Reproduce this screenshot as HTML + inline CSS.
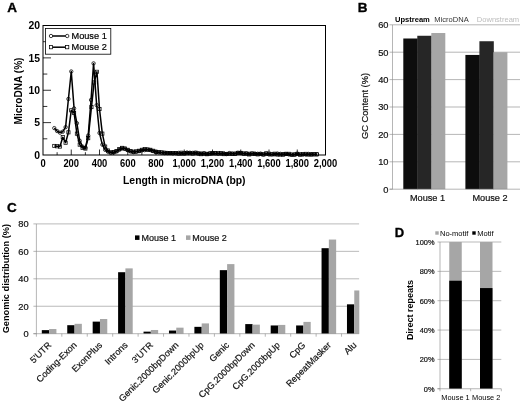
<!DOCTYPE html>
<html><head><meta charset="utf-8"><title>Figure</title>
<style>
html,body{margin:0;padding:0;background:#fff;}
body{width:520px;height:402px;overflow:hidden;}
svg{display:block;font-family:"Liberation Sans", Arial, Helvetica, sans-serif;}
</style></head><body>
<svg width="520" height="402" viewBox="0 0 520 402">
<rect width="520" height="402" fill="#fff"/>
<g id="panelA">
<rect x="43.0" y="25.5" width="282.5" height="129.5" fill="#fff" stroke="#000" stroke-width="1"/>
<line x1="57.12" y1="155.0" x2="57.12" y2="152.2" stroke="#000" stroke-width="0.8"/>
<line x1="71.25" y1="155.0" x2="71.25" y2="149.5" stroke="#000" stroke-width="0.8"/>
<line x1="85.38" y1="155.0" x2="85.38" y2="152.2" stroke="#000" stroke-width="0.8"/>
<line x1="99.50" y1="155.0" x2="99.50" y2="149.5" stroke="#000" stroke-width="0.8"/>
<line x1="113.62" y1="155.0" x2="113.62" y2="152.2" stroke="#000" stroke-width="0.8"/>
<line x1="127.75" y1="155.0" x2="127.75" y2="149.5" stroke="#000" stroke-width="0.8"/>
<line x1="141.88" y1="155.0" x2="141.88" y2="152.2" stroke="#000" stroke-width="0.8"/>
<line x1="156.00" y1="155.0" x2="156.00" y2="149.5" stroke="#000" stroke-width="0.8"/>
<line x1="170.12" y1="155.0" x2="170.12" y2="152.2" stroke="#000" stroke-width="0.8"/>
<line x1="184.25" y1="155.0" x2="184.25" y2="149.5" stroke="#000" stroke-width="0.8"/>
<line x1="198.38" y1="155.0" x2="198.38" y2="152.2" stroke="#000" stroke-width="0.8"/>
<line x1="212.50" y1="155.0" x2="212.50" y2="149.5" stroke="#000" stroke-width="0.8"/>
<line x1="226.62" y1="155.0" x2="226.62" y2="152.2" stroke="#000" stroke-width="0.8"/>
<line x1="240.75" y1="155.0" x2="240.75" y2="149.5" stroke="#000" stroke-width="0.8"/>
<line x1="254.88" y1="155.0" x2="254.88" y2="152.2" stroke="#000" stroke-width="0.8"/>
<line x1="269.00" y1="155.0" x2="269.00" y2="149.5" stroke="#000" stroke-width="0.8"/>
<line x1="283.12" y1="155.0" x2="283.12" y2="152.2" stroke="#000" stroke-width="0.8"/>
<line x1="297.25" y1="155.0" x2="297.25" y2="149.5" stroke="#000" stroke-width="0.8"/>
<line x1="311.38" y1="155.0" x2="311.38" y2="152.2" stroke="#000" stroke-width="0.8"/>
<line x1="43.0" y1="138.81" x2="47.3" y2="138.81" stroke="#000" stroke-width="0.8"/>
<line x1="43.0" y1="122.62" x2="51.0" y2="122.62" stroke="#000" stroke-width="0.8"/>
<line x1="43.0" y1="106.44" x2="47.3" y2="106.44" stroke="#000" stroke-width="0.8"/>
<line x1="43.0" y1="90.25" x2="51.0" y2="90.25" stroke="#000" stroke-width="0.8"/>
<line x1="43.0" y1="74.06" x2="47.3" y2="74.06" stroke="#000" stroke-width="0.8"/>
<line x1="43.0" y1="57.88" x2="51.0" y2="57.88" stroke="#000" stroke-width="0.8"/>
<line x1="43.0" y1="41.69" x2="47.3" y2="41.69" stroke="#000" stroke-width="0.8"/>
<polyline points="54.30,145.94 57.12,146.26 59.95,146.58 62.77,137.19 65.60,142.70 68.42,132.34 71.25,110.32 74.08,112.91 76.90,133.63 79.72,144.64 82.55,147.88 85.38,148.53 88.20,138.16 91.45,107.08 94.13,82.48 96.96,71.80 99.50,109.03 102.33,133.63 105.15,146.58 107.97,150.47 110.80,152.41 113.62,152.09 116.45,151.12 119.28,149.17 122.10,147.88 124.92,148.53 127.75,149.82 130.57,151.12 133.40,151.76 136.22,151.44 139.05,150.79 141.88,149.82 144.70,149.17 147.53,149.50 150.35,149.82 153.18,150.79 156.00,151.76 158.82,152.09 161.65,152.41 164.47,152.73 167.30,153.06 170.12,153.06 172.95,153.07 175.78,153.00 178.60,153.63 181.43,152.73 184.25,153.43 187.07,153.16 189.90,153.15 192.72,153.53 195.55,152.69 198.38,153.36 201.20,154.15 204.03,153.53 206.85,154.19 209.68,153.67 212.50,153.20 215.32,153.15 218.15,153.29 220.97,153.13 223.80,154.11 226.62,153.97 229.45,153.71 232.28,153.87 235.10,153.77 237.93,152.89 240.75,152.91 243.57,153.53 246.40,153.46 249.22,154.42 252.05,153.49 254.88,153.95 257.70,154.37 260.52,153.94 263.35,154.54 266.18,153.46 269.00,153.68 271.82,154.44 274.65,153.72 277.48,154.56 280.30,154.56 283.12,154.61 285.95,153.86 288.77,153.84 291.60,154.68 294.43,154.68 297.25,153.88 300.07,154.68 302.90,153.99 305.73,153.88 308.55,154.56 311.38,154.39 314.20,154.31 317.02,154.28" fill="none" stroke="#000" stroke-width="1.5" stroke-linejoin="round"/>
<rect x="52.70" y="144.34" width="3.2" height="3.2" fill="none" stroke="#000" stroke-width="0.75"/>
<rect x="55.52" y="144.66" width="3.2" height="3.2" fill="none" stroke="#000" stroke-width="0.75"/>
<rect x="58.35" y="144.98" width="3.2" height="3.2" fill="none" stroke="#000" stroke-width="0.75"/>
<rect x="61.17" y="135.59" width="3.2" height="3.2" fill="none" stroke="#000" stroke-width="0.75"/>
<rect x="64.00" y="141.10" width="3.2" height="3.2" fill="none" stroke="#000" stroke-width="0.75"/>
<rect x="66.83" y="130.74" width="3.2" height="3.2" fill="none" stroke="#000" stroke-width="0.75"/>
<rect x="69.65" y="108.72" width="3.2" height="3.2" fill="none" stroke="#000" stroke-width="0.75"/>
<rect x="72.48" y="111.31" width="3.2" height="3.2" fill="none" stroke="#000" stroke-width="0.75"/>
<rect x="75.30" y="132.03" width="3.2" height="3.2" fill="none" stroke="#000" stroke-width="0.75"/>
<rect x="78.12" y="143.04" width="3.2" height="3.2" fill="none" stroke="#000" stroke-width="0.75"/>
<rect x="80.95" y="146.28" width="3.2" height="3.2" fill="none" stroke="#000" stroke-width="0.75"/>
<rect x="83.78" y="146.93" width="3.2" height="3.2" fill="none" stroke="#000" stroke-width="0.75"/>
<rect x="86.60" y="136.56" width="3.2" height="3.2" fill="none" stroke="#000" stroke-width="0.75"/>
<rect x="89.85" y="105.48" width="3.2" height="3.2" fill="none" stroke="#000" stroke-width="0.75"/>
<rect x="92.53" y="80.88" width="3.2" height="3.2" fill="none" stroke="#000" stroke-width="0.75"/>
<rect x="95.36" y="70.20" width="3.2" height="3.2" fill="none" stroke="#000" stroke-width="0.75"/>
<rect x="97.90" y="107.43" width="3.2" height="3.2" fill="none" stroke="#000" stroke-width="0.75"/>
<rect x="100.73" y="132.03" width="3.2" height="3.2" fill="none" stroke="#000" stroke-width="0.75"/>
<rect x="103.55" y="144.98" width="3.2" height="3.2" fill="none" stroke="#000" stroke-width="0.75"/>
<rect x="106.38" y="148.87" width="3.2" height="3.2" fill="none" stroke="#000" stroke-width="0.75"/>
<rect x="109.20" y="150.81" width="3.2" height="3.2" fill="none" stroke="#000" stroke-width="0.75"/>
<rect x="112.03" y="150.49" width="3.2" height="3.2" fill="none" stroke="#000" stroke-width="0.75"/>
<rect x="114.85" y="149.52" width="3.2" height="3.2" fill="none" stroke="#000" stroke-width="0.75"/>
<rect x="117.68" y="147.57" width="3.2" height="3.2" fill="none" stroke="#000" stroke-width="0.75"/>
<rect x="120.50" y="146.28" width="3.2" height="3.2" fill="none" stroke="#000" stroke-width="0.75"/>
<rect x="123.33" y="146.93" width="3.2" height="3.2" fill="none" stroke="#000" stroke-width="0.75"/>
<rect x="126.15" y="148.22" width="3.2" height="3.2" fill="none" stroke="#000" stroke-width="0.75"/>
<rect x="128.97" y="149.52" width="3.2" height="3.2" fill="none" stroke="#000" stroke-width="0.75"/>
<rect x="131.80" y="150.16" width="3.2" height="3.2" fill="none" stroke="#000" stroke-width="0.75"/>
<rect x="134.62" y="149.84" width="3.2" height="3.2" fill="none" stroke="#000" stroke-width="0.75"/>
<rect x="137.45" y="149.19" width="3.2" height="3.2" fill="none" stroke="#000" stroke-width="0.75"/>
<rect x="140.28" y="148.22" width="3.2" height="3.2" fill="none" stroke="#000" stroke-width="0.75"/>
<rect x="143.10" y="147.57" width="3.2" height="3.2" fill="none" stroke="#000" stroke-width="0.75"/>
<rect x="145.93" y="147.90" width="3.2" height="3.2" fill="none" stroke="#000" stroke-width="0.75"/>
<rect x="148.75" y="148.22" width="3.2" height="3.2" fill="none" stroke="#000" stroke-width="0.75"/>
<rect x="151.58" y="149.19" width="3.2" height="3.2" fill="none" stroke="#000" stroke-width="0.75"/>
<rect x="154.40" y="150.16" width="3.2" height="3.2" fill="none" stroke="#000" stroke-width="0.75"/>
<rect x="157.22" y="150.49" width="3.2" height="3.2" fill="none" stroke="#000" stroke-width="0.75"/>
<rect x="160.05" y="150.81" width="3.2" height="3.2" fill="none" stroke="#000" stroke-width="0.75"/>
<rect x="162.88" y="151.13" width="3.2" height="3.2" fill="none" stroke="#000" stroke-width="0.75"/>
<rect x="165.70" y="151.46" width="3.2" height="3.2" fill="none" stroke="#000" stroke-width="0.75"/>
<rect x="168.53" y="151.46" width="3.2" height="3.2" fill="none" stroke="#000" stroke-width="0.75"/>
<rect x="171.35" y="151.47" width="3.2" height="3.2" fill="none" stroke="#000" stroke-width="0.75"/>
<rect x="174.18" y="151.40" width="3.2" height="3.2" fill="none" stroke="#000" stroke-width="0.75"/>
<rect x="177.00" y="152.03" width="3.2" height="3.2" fill="none" stroke="#000" stroke-width="0.75"/>
<rect x="179.83" y="151.13" width="3.2" height="3.2" fill="none" stroke="#000" stroke-width="0.75"/>
<rect x="182.65" y="151.83" width="3.2" height="3.2" fill="none" stroke="#000" stroke-width="0.75"/>
<rect x="185.47" y="151.56" width="3.2" height="3.2" fill="none" stroke="#000" stroke-width="0.75"/>
<rect x="188.30" y="151.55" width="3.2" height="3.2" fill="none" stroke="#000" stroke-width="0.75"/>
<rect x="191.12" y="151.93" width="3.2" height="3.2" fill="none" stroke="#000" stroke-width="0.75"/>
<rect x="193.95" y="151.09" width="3.2" height="3.2" fill="none" stroke="#000" stroke-width="0.75"/>
<rect x="196.78" y="151.76" width="3.2" height="3.2" fill="none" stroke="#000" stroke-width="0.75"/>
<rect x="199.60" y="152.55" width="3.2" height="3.2" fill="none" stroke="#000" stroke-width="0.75"/>
<rect x="202.43" y="151.93" width="3.2" height="3.2" fill="none" stroke="#000" stroke-width="0.75"/>
<rect x="205.25" y="152.59" width="3.2" height="3.2" fill="none" stroke="#000" stroke-width="0.75"/>
<rect x="208.08" y="152.07" width="3.2" height="3.2" fill="none" stroke="#000" stroke-width="0.75"/>
<rect x="210.90" y="151.60" width="3.2" height="3.2" fill="none" stroke="#000" stroke-width="0.75"/>
<rect x="213.72" y="151.55" width="3.2" height="3.2" fill="none" stroke="#000" stroke-width="0.75"/>
<rect x="216.55" y="151.69" width="3.2" height="3.2" fill="none" stroke="#000" stroke-width="0.75"/>
<rect x="219.38" y="151.53" width="3.2" height="3.2" fill="none" stroke="#000" stroke-width="0.75"/>
<rect x="222.20" y="152.51" width="3.2" height="3.2" fill="none" stroke="#000" stroke-width="0.75"/>
<rect x="225.03" y="152.37" width="3.2" height="3.2" fill="none" stroke="#000" stroke-width="0.75"/>
<rect x="227.85" y="152.11" width="3.2" height="3.2" fill="none" stroke="#000" stroke-width="0.75"/>
<rect x="230.68" y="152.27" width="3.2" height="3.2" fill="none" stroke="#000" stroke-width="0.75"/>
<rect x="233.50" y="152.17" width="3.2" height="3.2" fill="none" stroke="#000" stroke-width="0.75"/>
<rect x="236.33" y="151.29" width="3.2" height="3.2" fill="none" stroke="#000" stroke-width="0.75"/>
<rect x="239.15" y="151.31" width="3.2" height="3.2" fill="none" stroke="#000" stroke-width="0.75"/>
<rect x="241.97" y="151.93" width="3.2" height="3.2" fill="none" stroke="#000" stroke-width="0.75"/>
<rect x="244.80" y="151.86" width="3.2" height="3.2" fill="none" stroke="#000" stroke-width="0.75"/>
<rect x="247.62" y="152.82" width="3.2" height="3.2" fill="none" stroke="#000" stroke-width="0.75"/>
<rect x="250.45" y="151.89" width="3.2" height="3.2" fill="none" stroke="#000" stroke-width="0.75"/>
<rect x="253.28" y="152.35" width="3.2" height="3.2" fill="none" stroke="#000" stroke-width="0.75"/>
<rect x="256.10" y="152.77" width="3.2" height="3.2" fill="none" stroke="#000" stroke-width="0.75"/>
<rect x="258.92" y="152.34" width="3.2" height="3.2" fill="none" stroke="#000" stroke-width="0.75"/>
<rect x="261.75" y="152.94" width="3.2" height="3.2" fill="none" stroke="#000" stroke-width="0.75"/>
<rect x="264.57" y="151.86" width="3.2" height="3.2" fill="none" stroke="#000" stroke-width="0.75"/>
<rect x="267.40" y="152.08" width="3.2" height="3.2" fill="none" stroke="#000" stroke-width="0.75"/>
<rect x="270.22" y="152.84" width="3.2" height="3.2" fill="none" stroke="#000" stroke-width="0.75"/>
<rect x="273.05" y="152.12" width="3.2" height="3.2" fill="none" stroke="#000" stroke-width="0.75"/>
<rect x="275.88" y="152.96" width="3.2" height="3.2" fill="none" stroke="#000" stroke-width="0.75"/>
<rect x="278.70" y="152.96" width="3.2" height="3.2" fill="none" stroke="#000" stroke-width="0.75"/>
<rect x="281.52" y="153.01" width="3.2" height="3.2" fill="none" stroke="#000" stroke-width="0.75"/>
<rect x="284.35" y="152.26" width="3.2" height="3.2" fill="none" stroke="#000" stroke-width="0.75"/>
<rect x="287.17" y="152.24" width="3.2" height="3.2" fill="none" stroke="#000" stroke-width="0.75"/>
<rect x="290.00" y="153.08" width="3.2" height="3.2" fill="none" stroke="#000" stroke-width="0.75"/>
<rect x="292.82" y="153.08" width="3.2" height="3.2" fill="none" stroke="#000" stroke-width="0.75"/>
<rect x="295.65" y="152.28" width="3.2" height="3.2" fill="none" stroke="#000" stroke-width="0.75"/>
<rect x="298.47" y="153.08" width="3.2" height="3.2" fill="none" stroke="#000" stroke-width="0.75"/>
<rect x="301.30" y="152.39" width="3.2" height="3.2" fill="none" stroke="#000" stroke-width="0.75"/>
<rect x="304.12" y="152.28" width="3.2" height="3.2" fill="none" stroke="#000" stroke-width="0.75"/>
<rect x="306.95" y="152.96" width="3.2" height="3.2" fill="none" stroke="#000" stroke-width="0.75"/>
<rect x="309.77" y="152.79" width="3.2" height="3.2" fill="none" stroke="#000" stroke-width="0.75"/>
<rect x="312.60" y="152.71" width="3.2" height="3.2" fill="none" stroke="#000" stroke-width="0.75"/>
<rect x="315.42" y="152.68" width="3.2" height="3.2" fill="none" stroke="#000" stroke-width="0.75"/>
<polyline points="54.30,128.13 57.12,131.04 59.95,132.66 62.77,131.69 65.60,127.16 68.42,98.99 71.25,71.47 74.08,108.38 76.90,123.27 79.72,140.75 82.55,146.58 85.38,147.88 88.20,135.57 91.03,99.96 93.57,63.38 96.67,105.14 99.50,132.99 102.33,144.64 105.15,149.82 107.97,151.76 110.80,152.73 113.62,152.41 116.45,151.44 119.28,149.82 122.10,148.53 124.92,148.85 127.75,150.14 130.57,151.44 133.40,152.09 136.22,151.76 139.05,151.12 141.88,150.47 144.70,150.14 147.53,149.82 150.35,150.14 153.18,151.12 156.00,152.09 158.82,152.41 161.65,152.73 164.47,153.06 167.30,153.06 170.12,153.06 172.95,153.43 175.78,153.27 178.60,152.98 181.43,153.69 184.25,153.40 187.07,152.54 189.90,152.73 192.72,152.96 195.55,152.97 198.38,153.61 201.20,153.44 204.03,153.34 206.85,153.87 209.68,153.21 212.50,153.39 215.32,153.39 218.15,153.76 220.97,153.70 223.80,153.20 226.62,154.06 229.45,153.10 232.28,153.49 235.10,153.63 237.93,152.84 240.75,152.96 243.57,153.82 246.40,153.61 249.22,153.83 252.05,153.61 254.88,153.56 257.70,153.78 260.52,153.64 263.35,154.28 266.18,153.62 269.00,154.51 271.82,154.13 274.65,154.27 277.48,153.59 280.30,153.90 283.12,154.16 285.95,153.97 288.77,154.41 291.60,154.64 294.43,154.30 297.25,153.71 300.07,154.29 302.90,154.68 305.73,154.63 308.55,153.95 311.38,154.46 314.20,154.25 317.02,154.35" fill="none" stroke="#000" stroke-width="1.5" stroke-linejoin="round"/>
<circle cx="54.30" cy="128.13" r="1.7" fill="none" stroke="#000" stroke-width="0.75"/>
<circle cx="57.12" cy="131.04" r="1.7" fill="none" stroke="#000" stroke-width="0.75"/>
<circle cx="59.95" cy="132.66" r="1.7" fill="none" stroke="#000" stroke-width="0.75"/>
<circle cx="62.77" cy="131.69" r="1.7" fill="none" stroke="#000" stroke-width="0.75"/>
<circle cx="65.60" cy="127.16" r="1.7" fill="none" stroke="#000" stroke-width="0.75"/>
<circle cx="68.42" cy="98.99" r="1.7" fill="none" stroke="#000" stroke-width="0.75"/>
<circle cx="71.25" cy="71.47" r="1.7" fill="none" stroke="#000" stroke-width="0.75"/>
<circle cx="74.08" cy="108.38" r="1.7" fill="none" stroke="#000" stroke-width="0.75"/>
<circle cx="76.90" cy="123.27" r="1.7" fill="none" stroke="#000" stroke-width="0.75"/>
<circle cx="79.72" cy="140.75" r="1.7" fill="none" stroke="#000" stroke-width="0.75"/>
<circle cx="82.55" cy="146.58" r="1.7" fill="none" stroke="#000" stroke-width="0.75"/>
<circle cx="85.38" cy="147.88" r="1.7" fill="none" stroke="#000" stroke-width="0.75"/>
<circle cx="88.20" cy="135.57" r="1.7" fill="none" stroke="#000" stroke-width="0.75"/>
<circle cx="91.03" cy="99.96" r="1.7" fill="none" stroke="#000" stroke-width="0.75"/>
<circle cx="93.57" cy="63.38" r="1.7" fill="none" stroke="#000" stroke-width="0.75"/>
<circle cx="96.67" cy="105.14" r="1.7" fill="none" stroke="#000" stroke-width="0.75"/>
<circle cx="99.50" cy="132.99" r="1.7" fill="none" stroke="#000" stroke-width="0.75"/>
<circle cx="102.33" cy="144.64" r="1.7" fill="none" stroke="#000" stroke-width="0.75"/>
<circle cx="105.15" cy="149.82" r="1.7" fill="none" stroke="#000" stroke-width="0.75"/>
<circle cx="107.97" cy="151.76" r="1.7" fill="none" stroke="#000" stroke-width="0.75"/>
<circle cx="110.80" cy="152.73" r="1.7" fill="none" stroke="#000" stroke-width="0.75"/>
<circle cx="113.62" cy="152.41" r="1.7" fill="none" stroke="#000" stroke-width="0.75"/>
<circle cx="116.45" cy="151.44" r="1.7" fill="none" stroke="#000" stroke-width="0.75"/>
<circle cx="119.28" cy="149.82" r="1.7" fill="none" stroke="#000" stroke-width="0.75"/>
<circle cx="122.10" cy="148.53" r="1.7" fill="none" stroke="#000" stroke-width="0.75"/>
<circle cx="124.92" cy="148.85" r="1.7" fill="none" stroke="#000" stroke-width="0.75"/>
<circle cx="127.75" cy="150.14" r="1.7" fill="none" stroke="#000" stroke-width="0.75"/>
<circle cx="130.57" cy="151.44" r="1.7" fill="none" stroke="#000" stroke-width="0.75"/>
<circle cx="133.40" cy="152.09" r="1.7" fill="none" stroke="#000" stroke-width="0.75"/>
<circle cx="136.22" cy="151.76" r="1.7" fill="none" stroke="#000" stroke-width="0.75"/>
<circle cx="139.05" cy="151.12" r="1.7" fill="none" stroke="#000" stroke-width="0.75"/>
<circle cx="141.88" cy="150.47" r="1.7" fill="none" stroke="#000" stroke-width="0.75"/>
<circle cx="144.70" cy="150.14" r="1.7" fill="none" stroke="#000" stroke-width="0.75"/>
<circle cx="147.53" cy="149.82" r="1.7" fill="none" stroke="#000" stroke-width="0.75"/>
<circle cx="150.35" cy="150.14" r="1.7" fill="none" stroke="#000" stroke-width="0.75"/>
<circle cx="153.18" cy="151.12" r="1.7" fill="none" stroke="#000" stroke-width="0.75"/>
<circle cx="156.00" cy="152.09" r="1.7" fill="none" stroke="#000" stroke-width="0.75"/>
<circle cx="158.82" cy="152.41" r="1.7" fill="none" stroke="#000" stroke-width="0.75"/>
<circle cx="161.65" cy="152.73" r="1.7" fill="none" stroke="#000" stroke-width="0.75"/>
<circle cx="164.47" cy="153.06" r="1.7" fill="none" stroke="#000" stroke-width="0.75"/>
<circle cx="167.30" cy="153.06" r="1.7" fill="none" stroke="#000" stroke-width="0.75"/>
<circle cx="170.12" cy="153.06" r="1.7" fill="none" stroke="#000" stroke-width="0.75"/>
<circle cx="172.95" cy="153.43" r="1.7" fill="none" stroke="#000" stroke-width="0.75"/>
<circle cx="175.78" cy="153.27" r="1.7" fill="none" stroke="#000" stroke-width="0.75"/>
<circle cx="178.60" cy="152.98" r="1.7" fill="none" stroke="#000" stroke-width="0.75"/>
<circle cx="181.43" cy="153.69" r="1.7" fill="none" stroke="#000" stroke-width="0.75"/>
<circle cx="184.25" cy="153.40" r="1.7" fill="none" stroke="#000" stroke-width="0.75"/>
<circle cx="187.07" cy="152.54" r="1.7" fill="none" stroke="#000" stroke-width="0.75"/>
<circle cx="189.90" cy="152.73" r="1.7" fill="none" stroke="#000" stroke-width="0.75"/>
<circle cx="192.72" cy="152.96" r="1.7" fill="none" stroke="#000" stroke-width="0.75"/>
<circle cx="195.55" cy="152.97" r="1.7" fill="none" stroke="#000" stroke-width="0.75"/>
<circle cx="198.38" cy="153.61" r="1.7" fill="none" stroke="#000" stroke-width="0.75"/>
<circle cx="201.20" cy="153.44" r="1.7" fill="none" stroke="#000" stroke-width="0.75"/>
<circle cx="204.03" cy="153.34" r="1.7" fill="none" stroke="#000" stroke-width="0.75"/>
<circle cx="206.85" cy="153.87" r="1.7" fill="none" stroke="#000" stroke-width="0.75"/>
<circle cx="209.68" cy="153.21" r="1.7" fill="none" stroke="#000" stroke-width="0.75"/>
<circle cx="212.50" cy="153.39" r="1.7" fill="none" stroke="#000" stroke-width="0.75"/>
<circle cx="215.32" cy="153.39" r="1.7" fill="none" stroke="#000" stroke-width="0.75"/>
<circle cx="218.15" cy="153.76" r="1.7" fill="none" stroke="#000" stroke-width="0.75"/>
<circle cx="220.97" cy="153.70" r="1.7" fill="none" stroke="#000" stroke-width="0.75"/>
<circle cx="223.80" cy="153.20" r="1.7" fill="none" stroke="#000" stroke-width="0.75"/>
<circle cx="226.62" cy="154.06" r="1.7" fill="none" stroke="#000" stroke-width="0.75"/>
<circle cx="229.45" cy="153.10" r="1.7" fill="none" stroke="#000" stroke-width="0.75"/>
<circle cx="232.28" cy="153.49" r="1.7" fill="none" stroke="#000" stroke-width="0.75"/>
<circle cx="235.10" cy="153.63" r="1.7" fill="none" stroke="#000" stroke-width="0.75"/>
<circle cx="237.93" cy="152.84" r="1.7" fill="none" stroke="#000" stroke-width="0.75"/>
<circle cx="240.75" cy="152.96" r="1.7" fill="none" stroke="#000" stroke-width="0.75"/>
<circle cx="243.57" cy="153.82" r="1.7" fill="none" stroke="#000" stroke-width="0.75"/>
<circle cx="246.40" cy="153.61" r="1.7" fill="none" stroke="#000" stroke-width="0.75"/>
<circle cx="249.22" cy="153.83" r="1.7" fill="none" stroke="#000" stroke-width="0.75"/>
<circle cx="252.05" cy="153.61" r="1.7" fill="none" stroke="#000" stroke-width="0.75"/>
<circle cx="254.88" cy="153.56" r="1.7" fill="none" stroke="#000" stroke-width="0.75"/>
<circle cx="257.70" cy="153.78" r="1.7" fill="none" stroke="#000" stroke-width="0.75"/>
<circle cx="260.52" cy="153.64" r="1.7" fill="none" stroke="#000" stroke-width="0.75"/>
<circle cx="263.35" cy="154.28" r="1.7" fill="none" stroke="#000" stroke-width="0.75"/>
<circle cx="266.18" cy="153.62" r="1.7" fill="none" stroke="#000" stroke-width="0.75"/>
<circle cx="269.00" cy="154.51" r="1.7" fill="none" stroke="#000" stroke-width="0.75"/>
<circle cx="271.82" cy="154.13" r="1.7" fill="none" stroke="#000" stroke-width="0.75"/>
<circle cx="274.65" cy="154.27" r="1.7" fill="none" stroke="#000" stroke-width="0.75"/>
<circle cx="277.48" cy="153.59" r="1.7" fill="none" stroke="#000" stroke-width="0.75"/>
<circle cx="280.30" cy="153.90" r="1.7" fill="none" stroke="#000" stroke-width="0.75"/>
<circle cx="283.12" cy="154.16" r="1.7" fill="none" stroke="#000" stroke-width="0.75"/>
<circle cx="285.95" cy="153.97" r="1.7" fill="none" stroke="#000" stroke-width="0.75"/>
<circle cx="288.77" cy="154.41" r="1.7" fill="none" stroke="#000" stroke-width="0.75"/>
<circle cx="291.60" cy="154.64" r="1.7" fill="none" stroke="#000" stroke-width="0.75"/>
<circle cx="294.43" cy="154.30" r="1.7" fill="none" stroke="#000" stroke-width="0.75"/>
<circle cx="297.25" cy="153.71" r="1.7" fill="none" stroke="#000" stroke-width="0.75"/>
<circle cx="300.07" cy="154.29" r="1.7" fill="none" stroke="#000" stroke-width="0.75"/>
<circle cx="302.90" cy="154.68" r="1.7" fill="none" stroke="#000" stroke-width="0.75"/>
<circle cx="305.73" cy="154.63" r="1.7" fill="none" stroke="#000" stroke-width="0.75"/>
<circle cx="308.55" cy="153.95" r="1.7" fill="none" stroke="#000" stroke-width="0.75"/>
<circle cx="311.38" cy="154.46" r="1.7" fill="none" stroke="#000" stroke-width="0.75"/>
<circle cx="314.20" cy="154.25" r="1.7" fill="none" stroke="#000" stroke-width="0.75"/>
<circle cx="317.02" cy="154.35" r="1.7" fill="none" stroke="#000" stroke-width="0.75"/>
<rect x="45.5" y="28.5" width="65.3" height="25.7" fill="#fff" stroke="#000" stroke-width="0.8"/>
<line x1="51" y1="36" x2="67.2" y2="36" stroke="#000" stroke-width="1.5"/>
<circle cx="51" cy="36" r="1.7" fill="#fff" stroke="#000" stroke-width="0.75"/><circle cx="67.2" cy="36" r="1.7" fill="#fff" stroke="#000" stroke-width="0.75"/>
<line x1="51" y1="47.2" x2="67.2" y2="47.2" stroke="#000" stroke-width="1.5"/>
<rect x="49.4" y="45.6" width="3.2" height="3.2" fill="#fff" stroke="#000" stroke-width="0.75"/><rect x="65.6" y="45.6" width="3.2" height="3.2" fill="#fff" stroke="#000" stroke-width="0.75"/>
<text x="71.5" y="39" font-size="9.2" fill="#000" stroke="#000" stroke-width="0.2">Mouse 1</text>
<text x="71.5" y="50.4" font-size="9.2" fill="#000" stroke="#000" stroke-width="0.2">Mouse 2</text>
<text x="40" y="158.7" font-size="10.4" font-weight="bold" text-anchor="end">0</text>
<text x="40" y="126.3" font-size="10.4" font-weight="bold" text-anchor="end">5</text>
<text x="40" y="94.0" font-size="10.4" font-weight="bold" text-anchor="end">10</text>
<text x="40" y="61.6" font-size="10.4" font-weight="bold" text-anchor="end">15</text>
<text x="40" y="29.2" font-size="10.4" font-weight="bold" text-anchor="end">20</text>
<text transform="translate(43.0,166.8) scale(0.92,1)" font-size="10.2" font-weight="bold" text-anchor="middle">0</text>
<text transform="translate(71.2,166.8) scale(0.92,1)" font-size="10.2" font-weight="bold" text-anchor="middle">200</text>
<text transform="translate(99.5,166.8) scale(0.92,1)" font-size="10.2" font-weight="bold" text-anchor="middle">400</text>
<text transform="translate(127.8,166.8) scale(0.92,1)" font-size="10.2" font-weight="bold" text-anchor="middle">600</text>
<text transform="translate(156.0,166.8) scale(0.92,1)" font-size="10.2" font-weight="bold" text-anchor="middle">800</text>
<text transform="translate(184.2,166.8) scale(0.92,1)" font-size="10.2" font-weight="bold" text-anchor="middle">1,000</text>
<text transform="translate(212.5,166.8) scale(0.92,1)" font-size="10.2" font-weight="bold" text-anchor="middle">1,200</text>
<text transform="translate(240.8,166.8) scale(0.92,1)" font-size="10.2" font-weight="bold" text-anchor="middle">1,400</text>
<text transform="translate(269.0,166.8) scale(0.92,1)" font-size="10.2" font-weight="bold" text-anchor="middle">1,600</text>
<text transform="translate(297.2,166.8) scale(0.92,1)" font-size="10.2" font-weight="bold" text-anchor="middle">1,800</text>
<text transform="translate(325.5,166.8) scale(0.92,1)" font-size="10.2" font-weight="bold" text-anchor="middle">2,000</text>
<text x="184.3" y="183.6" font-size="10.4" font-weight="bold" text-anchor="middle">Length in microDNA (bp)</text>
<text transform="translate(22,91) rotate(-90)" font-size="10.1" font-weight="bold" text-anchor="middle">MicroDNA (%)</text>
<text x="7.3" y="11.9" font-size="13.5" font-weight="bold" stroke="#000" stroke-width="0.35">A</text>
</g>
<g id="panelB">
<line x1="392.5" y1="161.80" x2="520" y2="161.80" stroke="#858585" stroke-width="0.6"/>
<line x1="392.5" y1="134.40" x2="520" y2="134.40" stroke="#858585" stroke-width="0.6"/>
<line x1="392.5" y1="107.00" x2="520" y2="107.00" stroke="#858585" stroke-width="0.6"/>
<line x1="392.5" y1="79.60" x2="520" y2="79.60" stroke="#858585" stroke-width="0.6"/>
<line x1="392.5" y1="52.20" x2="520" y2="52.20" stroke="#858585" stroke-width="0.6"/>
<line x1="392.5" y1="24.80" x2="520" y2="24.80" stroke="#858585" stroke-width="0.6"/>
<rect x="403.30" y="38.50" width="14.40" height="150.70" fill="#0d0d0d"/>
<rect x="417.30" y="35.76" width="14.40" height="153.44" fill="#262626"/>
<rect x="431.30" y="33.02" width="14.00" height="156.18" fill="#a6a6a6"/>
<rect x="465.40" y="54.94" width="14.40" height="134.26" fill="#0d0d0d"/>
<rect x="479.40" y="41.24" width="14.40" height="147.96" fill="#262626"/>
<rect x="493.40" y="52.20" width="14.00" height="137.00" fill="#a6a6a6"/>
<line x1="389.5" y1="189.20" x2="520" y2="189.20" stroke="#858585" stroke-width="0.6"/>
<line x1="392.5" y1="24.80" x2="392.5" y2="189.20" stroke="#858585" stroke-width="0.6"/>
<line x1="389.5" y1="189.20" x2="392.5" y2="189.20" stroke="#858585" stroke-width="0.6"/>
<text x="388.5" y="192.5" font-size="9.3" text-anchor="end" fill="#111" stroke="#111" stroke-width="0.2">0</text>
<line x1="389.5" y1="161.80" x2="392.5" y2="161.80" stroke="#858585" stroke-width="0.6"/>
<text x="388.5" y="165.1" font-size="9.3" text-anchor="end" fill="#111" stroke="#111" stroke-width="0.2">10</text>
<line x1="389.5" y1="134.40" x2="392.5" y2="134.40" stroke="#858585" stroke-width="0.6"/>
<text x="388.5" y="137.7" font-size="9.3" text-anchor="end" fill="#111" stroke="#111" stroke-width="0.2">20</text>
<line x1="389.5" y1="107.00" x2="392.5" y2="107.00" stroke="#858585" stroke-width="0.6"/>
<text x="388.5" y="110.3" font-size="9.3" text-anchor="end" fill="#111" stroke="#111" stroke-width="0.2">30</text>
<line x1="389.5" y1="79.60" x2="392.5" y2="79.60" stroke="#858585" stroke-width="0.6"/>
<text x="388.5" y="82.9" font-size="9.3" text-anchor="end" fill="#111" stroke="#111" stroke-width="0.2">40</text>
<line x1="389.5" y1="52.20" x2="392.5" y2="52.20" stroke="#858585" stroke-width="0.6"/>
<text x="388.5" y="55.5" font-size="9.3" text-anchor="end" fill="#111" stroke="#111" stroke-width="0.2">50</text>
<line x1="389.5" y1="24.80" x2="392.5" y2="24.80" stroke="#858585" stroke-width="0.6"/>
<text x="388.5" y="28.1" font-size="9.3" text-anchor="end" fill="#111" stroke="#111" stroke-width="0.2">60</text>
<text x="395" y="22.3" font-size="7.55" font-weight="bold" fill="#000">Upstream</text>
<text x="434.3" y="22.3" font-size="7.55" fill="#333">MicroDNA</text>
<text x="476.8" y="22.3" font-size="7.55" fill="#bcbcbc">Downstream</text>
<text x="427.5" y="200.8" font-size="9.2" text-anchor="middle" fill="#111" stroke="#111" stroke-width="0.2">Mouse 1</text>
<text x="490" y="200.8" font-size="9.2" text-anchor="middle" fill="#111" stroke="#111" stroke-width="0.2">Mouse 2</text>
<text transform="translate(368.3,106) rotate(-90)" font-size="9.3" text-anchor="middle" fill="#111" stroke="#111" stroke-width="0.2">GC Content (%)</text>
<text x="357.8" y="12" font-size="13.5" font-weight="bold" stroke="#000" stroke-width="0.35">B</text>
</g>
<g id="panelC">
<clipPath id="cc"><rect x="0" y="200" width="359.3" height="202"/></clipPath>
<g clip-path="url(#cc)">
<line x1="36.4" y1="306.25" x2="359.3" y2="306.25" stroke="#8c8c8c" stroke-width="0.6"/>
<line x1="36.4" y1="278.80" x2="359.3" y2="278.80" stroke="#8c8c8c" stroke-width="0.6"/>
<line x1="36.4" y1="251.35" x2="359.3" y2="251.35" stroke="#8c8c8c" stroke-width="0.6"/>
<line x1="36.4" y1="223.90" x2="359.3" y2="223.90" stroke="#8c8c8c" stroke-width="0.6"/>
<rect x="41.81" y="330.13" width="7.30" height="3.57" fill="#000"/>
<rect x="49.11" y="329.03" width="7.30" height="4.67" fill="#a6a6a6"/>
<rect x="67.25" y="325.19" width="7.30" height="8.51" fill="#000"/>
<rect x="74.55" y="323.82" width="7.30" height="9.88" fill="#a6a6a6"/>
<rect x="92.67" y="321.62" width="7.30" height="12.08" fill="#000"/>
<rect x="99.97" y="319.01" width="7.30" height="14.69" fill="#a6a6a6"/>
<rect x="118.11" y="272.21" width="7.30" height="61.49" fill="#000"/>
<rect x="125.41" y="268.37" width="7.30" height="65.33" fill="#a6a6a6"/>
<rect x="143.53" y="331.64" width="7.30" height="2.06" fill="#000"/>
<rect x="150.84" y="329.99" width="7.30" height="3.71" fill="#a6a6a6"/>
<rect x="168.97" y="330.54" width="7.30" height="3.16" fill="#000"/>
<rect x="176.27" y="327.66" width="7.30" height="6.04" fill="#a6a6a6"/>
<rect x="194.39" y="326.84" width="7.30" height="6.86" fill="#000"/>
<rect x="201.69" y="323.41" width="7.30" height="10.29" fill="#a6a6a6"/>
<rect x="219.82" y="270.15" width="7.30" height="63.55" fill="#000"/>
<rect x="227.12" y="264.11" width="7.30" height="69.59" fill="#a6a6a6"/>
<rect x="245.25" y="324.09" width="7.30" height="9.61" fill="#000"/>
<rect x="252.56" y="324.64" width="7.30" height="9.06" fill="#a6a6a6"/>
<rect x="270.69" y="325.46" width="7.30" height="8.23" fill="#000"/>
<rect x="277.99" y="324.92" width="7.30" height="8.78" fill="#a6a6a6"/>
<rect x="296.12" y="325.46" width="7.30" height="8.23" fill="#000"/>
<rect x="303.42" y="321.90" width="7.30" height="11.80" fill="#a6a6a6"/>
<rect x="321.55" y="248.19" width="7.30" height="85.51" fill="#000"/>
<rect x="328.85" y="239.55" width="7.30" height="94.15" fill="#a6a6a6"/>
<rect x="346.97" y="304.33" width="7.30" height="29.37" fill="#000"/>
<rect x="354.27" y="290.47" width="7.30" height="43.23" fill="#a6a6a6"/>
<line x1="33.4" y1="333.70" x2="359.3" y2="333.70" stroke="#858585" stroke-width="0.6"/>
<line x1="36.40" y1="333.70" x2="36.40" y2="336.70" stroke="#858585" stroke-width="0.6"/>
<line x1="61.83" y1="333.70" x2="61.83" y2="336.70" stroke="#858585" stroke-width="0.6"/>
<line x1="87.26" y1="333.70" x2="87.26" y2="336.70" stroke="#858585" stroke-width="0.6"/>
<line x1="112.69" y1="333.70" x2="112.69" y2="336.70" stroke="#858585" stroke-width="0.6"/>
<line x1="138.12" y1="333.70" x2="138.12" y2="336.70" stroke="#858585" stroke-width="0.6"/>
<line x1="163.55" y1="333.70" x2="163.55" y2="336.70" stroke="#858585" stroke-width="0.6"/>
<line x1="188.98" y1="333.70" x2="188.98" y2="336.70" stroke="#858585" stroke-width="0.6"/>
<line x1="214.41" y1="333.70" x2="214.41" y2="336.70" stroke="#858585" stroke-width="0.6"/>
<line x1="239.84" y1="333.70" x2="239.84" y2="336.70" stroke="#858585" stroke-width="0.6"/>
<line x1="265.27" y1="333.70" x2="265.27" y2="336.70" stroke="#858585" stroke-width="0.6"/>
<line x1="290.70" y1="333.70" x2="290.70" y2="336.70" stroke="#858585" stroke-width="0.6"/>
<line x1="316.13" y1="333.70" x2="316.13" y2="336.70" stroke="#858585" stroke-width="0.6"/>
<line x1="341.56" y1="333.70" x2="341.56" y2="336.70" stroke="#858585" stroke-width="0.6"/>
<line x1="366.99" y1="333.70" x2="366.99" y2="336.70" stroke="#858585" stroke-width="0.6"/>
</g>
<line x1="36.4" y1="223.90" x2="36.4" y2="333.70" stroke="#858585" stroke-width="0.6"/>
<line x1="33.4" y1="333.70" x2="36.4" y2="333.70" stroke="#858585" stroke-width="0.6"/>
<text x="28.6" y="337.0" font-size="9.3" text-anchor="end" fill="#111" stroke="#111" stroke-width="0.2">0</text>
<line x1="33.4" y1="306.25" x2="36.4" y2="306.25" stroke="#858585" stroke-width="0.6"/>
<text x="28.6" y="309.6" font-size="9.3" text-anchor="end" fill="#111" stroke="#111" stroke-width="0.2">20</text>
<line x1="33.4" y1="278.80" x2="36.4" y2="278.80" stroke="#858585" stroke-width="0.6"/>
<text x="28.6" y="282.1" font-size="9.3" text-anchor="end" fill="#111" stroke="#111" stroke-width="0.2">40</text>
<line x1="33.4" y1="251.35" x2="36.4" y2="251.35" stroke="#858585" stroke-width="0.6"/>
<text x="28.6" y="254.6" font-size="9.3" text-anchor="end" fill="#111" stroke="#111" stroke-width="0.2">60</text>
<line x1="33.4" y1="223.90" x2="36.4" y2="223.90" stroke="#858585" stroke-width="0.6"/>
<text x="28.6" y="227.2" font-size="9.3" text-anchor="end" fill="#111" stroke="#111" stroke-width="0.2">80</text>
<text transform="translate(51.81,345.70) rotate(-45)" font-size="9.1" text-anchor="end" fill="#111" stroke="#111" stroke-width="0.2">5'UTR</text>
<text transform="translate(77.25,345.70) rotate(-45)" font-size="9.1" text-anchor="end" fill="#111" stroke="#111" stroke-width="0.2">Coding-Exon</text>
<text transform="translate(102.67,345.70) rotate(-45)" font-size="9.1" text-anchor="end" fill="#111" stroke="#111" stroke-width="0.2">ExonPlus</text>
<text transform="translate(128.10,345.70) rotate(-45)" font-size="9.1" text-anchor="end" fill="#111" stroke="#111" stroke-width="0.2">Introns</text>
<text transform="translate(153.53,345.70) rotate(-45)" font-size="9.1" text-anchor="end" fill="#111" stroke="#111" stroke-width="0.2">3'UTR</text>
<text transform="translate(178.97,345.70) rotate(-45)" font-size="9.1" text-anchor="end" fill="#111" stroke="#111" stroke-width="0.2">Genic.2000bpDown</text>
<text transform="translate(204.39,345.70) rotate(-45)" font-size="9.1" text-anchor="end" fill="#111" stroke="#111" stroke-width="0.2">Genic.2000bpUp</text>
<text transform="translate(229.82,345.70) rotate(-45)" font-size="9.1" text-anchor="end" fill="#111" stroke="#111" stroke-width="0.2">Genic</text>
<text transform="translate(255.25,345.70) rotate(-45)" font-size="9.1" text-anchor="end" fill="#111" stroke="#111" stroke-width="0.2">CpG.2000bpDown</text>
<text transform="translate(280.68,345.70) rotate(-45)" font-size="9.1" text-anchor="end" fill="#111" stroke="#111" stroke-width="0.2">CpG.2000bpUp</text>
<text transform="translate(306.11,345.70) rotate(-45)" font-size="9.1" text-anchor="end" fill="#111" stroke="#111" stroke-width="0.2">CpG</text>
<text transform="translate(331.54,345.70) rotate(-45)" font-size="9.1" text-anchor="end" fill="#111" stroke="#111" stroke-width="0.2">RepeatMasker</text>
<text transform="translate(356.97,345.70) rotate(-45)" font-size="9.1" text-anchor="end" fill="#111" stroke="#111" stroke-width="0.2">Alu</text>
<rect x="135" y="235.4" width="4.5" height="4.5" fill="#000"/>
<text x="141.5" y="240.8" font-size="9.0" fill="#111" stroke="#111" stroke-width="0.2">Mouse 1</text>
<rect x="186" y="235.4" width="4.5" height="4.5" fill="#a6a6a6"/>
<text x="192.3" y="240.8" font-size="9.0" fill="#111" stroke="#111" stroke-width="0.2">Mouse 2</text>
<text transform="translate(8.8,278.7) rotate(-90) scale(1.045,1)" font-size="8.8" font-weight="bold" text-anchor="middle">Genomic distribution (%)</text>
<text x="7" y="212.4" font-size="13.5" font-weight="bold" stroke="#000" stroke-width="0.35">C</text>
</g>
<g id="panelD">
<line x1="440.0" y1="359.40" x2="501.3" y2="359.40" stroke="#8c8c8c" stroke-width="0.6"/>
<line x1="440.0" y1="330.05" x2="501.3" y2="330.05" stroke="#8c8c8c" stroke-width="0.6"/>
<line x1="440.0" y1="300.70" x2="501.3" y2="300.70" stroke="#8c8c8c" stroke-width="0.6"/>
<line x1="440.0" y1="271.35" x2="501.3" y2="271.35" stroke="#8c8c8c" stroke-width="0.6"/>
<line x1="440.0" y1="242.00" x2="501.3" y2="242.00" stroke="#8c8c8c" stroke-width="0.6"/>
<rect x="449.25" y="242.00" width="12.5" height="146.75" fill="#a6a6a6"/>
<rect x="449.25" y="280.74" width="12.5" height="108.01" fill="#000"/>
<rect x="480.00" y="242.00" width="12.5" height="146.75" fill="#a6a6a6"/>
<rect x="480.00" y="288.08" width="12.5" height="100.67" fill="#000"/>
<line x1="437.5" y1="388.75" x2="501.3" y2="388.75" stroke="#858585" stroke-width="0.6"/>
<line x1="440.0" y1="242.00" x2="440.0" y2="388.75" stroke="#858585" stroke-width="0.6"/>
<line x1="440.00" y1="388.75" x2="440.00" y2="391.25" stroke="#858585" stroke-width="0.6"/>
<line x1="470.65" y1="388.75" x2="470.65" y2="391.25" stroke="#858585" stroke-width="0.6"/>
<line x1="501.30" y1="388.75" x2="501.30" y2="391.25" stroke="#858585" stroke-width="0.6"/>
<line x1="437.5" y1="388.75" x2="440.0" y2="388.75" stroke="#858585" stroke-width="0.6"/>
<text x="434.5" y="391.6" font-size="7.4" text-anchor="end" fill="#111" stroke="#111" stroke-width="0.2">0%</text>
<line x1="437.5" y1="359.40" x2="440.0" y2="359.40" stroke="#858585" stroke-width="0.6"/>
<text x="434.5" y="362.2" font-size="7.4" text-anchor="end" fill="#111" stroke="#111" stroke-width="0.2">20%</text>
<line x1="437.5" y1="330.05" x2="440.0" y2="330.05" stroke="#858585" stroke-width="0.6"/>
<text x="434.5" y="332.9" font-size="7.4" text-anchor="end" fill="#111" stroke="#111" stroke-width="0.2">40%</text>
<line x1="437.5" y1="300.70" x2="440.0" y2="300.70" stroke="#858585" stroke-width="0.6"/>
<text x="434.5" y="303.5" font-size="7.4" text-anchor="end" fill="#111" stroke="#111" stroke-width="0.2">60%</text>
<line x1="437.5" y1="271.35" x2="440.0" y2="271.35" stroke="#858585" stroke-width="0.6"/>
<text x="434.5" y="274.2" font-size="7.4" text-anchor="end" fill="#111" stroke="#111" stroke-width="0.2">80%</text>
<line x1="437.5" y1="242.00" x2="440.0" y2="242.00" stroke="#858585" stroke-width="0.6"/>
<text x="434.5" y="244.8" font-size="7.4" text-anchor="end" fill="#111" stroke="#111" stroke-width="0.2">100%</text>
<text x="455.5" y="399.8" font-size="7.4" text-anchor="middle" fill="#000">Mouse 1</text>
<text x="486.2" y="399.8" font-size="7.4" text-anchor="middle" fill="#000">Mouse 2</text>
<rect x="435.3" y="231.3" width="3.4" height="3.4" fill="#a6a6a6"/>
<text x="440" y="236" font-size="7.5" fill="#000">No-motif</text>
<rect x="472.3" y="231.3" width="3.4" height="3.4" fill="#000"/>
<text x="477.3" y="236" font-size="7.5" fill="#000">Motif</text>
<text transform="translate(413.1,310) rotate(-90)" font-size="9.0" font-weight="bold" text-anchor="middle">Direct repeats</text>
<text x="394.8" y="236.5" font-size="13" font-weight="bold" stroke="#000" stroke-width="0.35">D</text>
</g>
</svg>
</body></html>
